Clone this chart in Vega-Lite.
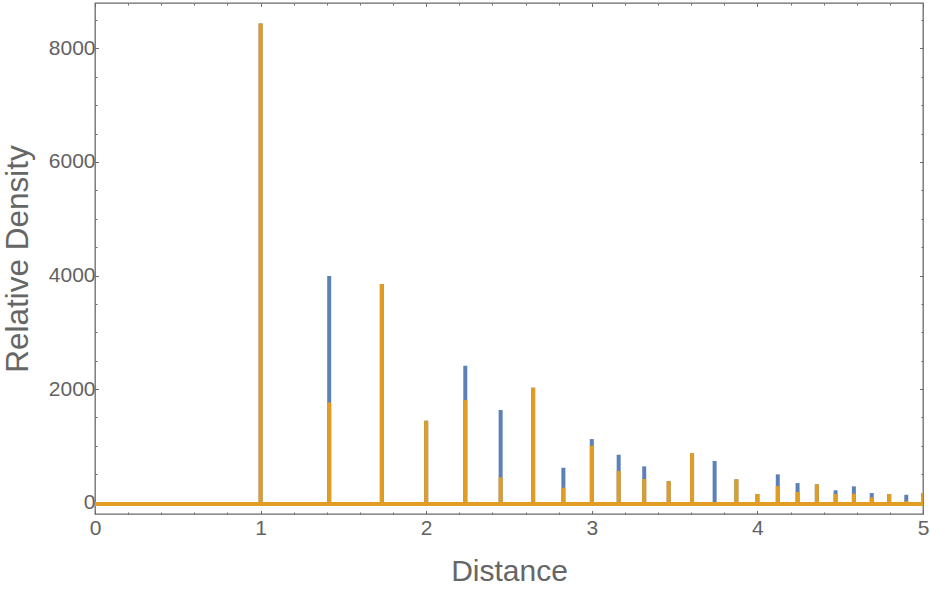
{
  "$schema": "https://vega.github.io/schema/vega-lite/v6.json",
  "description": "Relative density of pair distances, two series with spikes at square-root distances",
  "width": 828,
  "height": 511,
  "autosize": "none",
  "padding": {"left": 95, "top": 3, "right": 7, "bottom": 76},
  "background": "white",
  "data": {
    "values": [
      {"series": "blue", "d": 1, "density": 8440},
      {"series": "blue", "d": 1.4142, "density": 3990},
      {"series": "blue", "d": 1.7321, "density": 3849},
      {"series": "blue", "d": 2, "density": 1442},
      {"series": "blue", "d": 2.2361, "density": 2411},
      {"series": "blue", "d": 2.4495, "density": 1631},
      {"series": "blue", "d": 2.6458, "density": 2024},
      {"series": "blue", "d": 2.8284, "density": 615},
      {"series": "blue", "d": 3, "density": 1120},
      {"series": "blue", "d": 3.1623, "density": 844},
      {"series": "blue", "d": 3.3166, "density": 639},
      {"series": "blue", "d": 3.4641, "density": 380},
      {"series": "blue", "d": 3.6056, "density": 874},
      {"series": "blue", "d": 3.7417, "density": 733},
      {"series": "blue", "d": 3.873, "density": 410},
      {"series": "blue", "d": 4, "density": 151},
      {"series": "blue", "d": 4.1231, "density": 498},
      {"series": "blue", "d": 4.2426, "density": 345},
      {"series": "blue", "d": 4.3589, "density": 322},
      {"series": "blue", "d": 4.4721, "density": 217},
      {"series": "blue", "d": 4.5826, "density": 287},
      {"series": "blue", "d": 4.6904, "density": 169},
      {"series": "blue", "d": 4.7958, "density": 151},
      {"series": "blue", "d": 4.899, "density": 139},
      {"series": "blue", "d": 5, "density": 164},
      {"series": "orange", "d": 1, "density": 8440},
      {"series": "orange", "d": 1.4142, "density": 1766},
      {"series": "orange", "d": 1.7321, "density": 3849},
      {"series": "orange", "d": 2, "density": 1442},
      {"series": "orange", "d": 2.2361, "density": 1807},
      {"series": "orange", "d": 2.4495, "density": 446},
      {"series": "orange", "d": 2.6458, "density": 2024},
      {"series": "orange", "d": 2.8284, "density": 262},
      {"series": "orange", "d": 3, "density": 1002},
      {"series": "orange", "d": 3.1623, "density": 557},
      {"series": "orange", "d": 3.3166, "density": 416},
      {"series": "orange", "d": 3.4641, "density": 380},
      {"series": "orange", "d": 3.6056, "density": 874},
      {"series": "orange", "d": 3.7417, "density": 0},
      {"series": "orange", "d": 3.873, "density": 410},
      {"series": "orange", "d": 4, "density": 151},
      {"series": "orange", "d": 4.1231, "density": 292},
      {"series": "orange", "d": 4.2426, "density": 187},
      {"series": "orange", "d": 4.3589, "density": 322},
      {"series": "orange", "d": 4.4721, "density": 151},
      {"series": "orange", "d": 4.5826, "density": 157},
      {"series": "orange", "d": 4.6904, "density": 93},
      {"series": "orange", "d": 4.7958, "density": 151},
      {"series": "orange", "d": 4.899, "density": 28},
      {"series": "orange", "d": 5, "density": 164}
    ]
  },
  "layer": [
    {
      "transform": [{"filter": "datum.series == 'blue'"}],
      "mark": {"type": "rule", "color": "#5E81B5", "strokeWidth": 4, "strokeCap": "butt", "clip": true},
      "encoding": {
        "x": {
          "field": "d", "type": "quantitative",
          "scale": {"domain": [0, 5], "nice": false, "zero": false},
          "axis": {"orient": "bottom", "values": [0, 1, 2, 3, 4, 5], "format": "d", "tickSize": -3.5, "labelPadding": 7,
                   "title": "Distance", "titleY": 66, "titleBaseline": "alphabetic"}
        },
        "y": {
          "field": "density", "type": "quantitative",
          "scale": {"domain": [-200, 8800], "nice": false, "zero": false},
          "axis": {"orient": "left", "values": [0, 2000, 4000, 6000, 8000], "format": "d", "tickSize": -3.5, "labelPadding": 3.5,
                   "title": "Relative Density", "titleFontSize": 31.5, "titleX": -67.5, "titleBaseline": "alphabetic"}
        },
        "y2": {"datum": 0}
      }
    },
    {
      "mark": {"type": "rule", "color": "#E19C24", "strokeWidth": 3.2, "clip": true},
      "encoding": {
        "y": {"datum": -25, "axis": null}
      }
    },
    {
      "transform": [{"filter": "datum.series == 'orange'"}],
      "mark": {"type": "rule", "color": "#E19C24", "strokeWidth": 4, "strokeCap": "butt", "clip": true},
      "encoding": {
        "x": {
          "field": "d", "type": "quantitative",
          "axis": {"orient": "top", "values": [0, 1, 2, 3, 4, 5], "tickSize": -3.5, "labels": false, "title": null}
        },
        "y": {
          "field": "density", "type": "quantitative",
          "axis": {"orient": "right", "values": [0, 2000, 4000, 6000, 8000], "tickSize": -3.5, "labels": false, "title": null}
        },
        "y2": {"datum": 0}
      }
    },
    {
      "mark": {"type": "rule", "opacity": 0},
      "encoding": {
        "x": {
          "field": "d", "type": "quantitative",
          "axis": {"orient": "bottom", "values": [0.2, 0.4, 0.6, 0.8, 1.2, 1.4, 1.6, 1.8, 2.2, 2.4, 2.6, 2.8, 3.2, 3.4, 3.6, 3.8, 4.2, 4.4, 4.6, 4.8],
                   "tickSize": -2, "labels": false, "title": null}
        },
        "y": {
          "field": "density", "type": "quantitative",
          "axis": {"orient": "left", "values": [500, 1000, 1500, 2500, 3000, 3500, 4500, 5000, 5500, 6500, 7000, 7500, 8500],
                   "tickSize": -2, "labels": false, "title": null}
        }
      }
    },
    {
      "mark": {"type": "rule", "opacity": 0},
      "encoding": {
        "x": {
          "field": "d", "type": "quantitative",
          "axis": {"orient": "top", "values": [0.2, 0.4, 0.6, 0.8, 1.2, 1.4, 1.6, 1.8, 2.2, 2.4, 2.6, 2.8, 3.2, 3.4, 3.6, 3.8, 4.2, 4.4, 4.6, 4.8],
                   "tickSize": -2, "labels": false, "title": null}
        },
        "y": {
          "field": "density", "type": "quantitative",
          "axis": {"orient": "right", "values": [500, 1000, 1500, 2500, 3000, 3500, 4500, 5000, 5500, 6500, 7000, 7500, 8500],
                   "tickSize": -2, "labels": false, "title": null}
        }
      }
    }
  ],
  "resolve": {"axis": {"x": "independent", "y": "independent"}},
  "config": {
    "view": {"stroke": "#6a6a6a", "strokeWidth": 1.3},
    "axis": {
      "domain": false,
      "grid": false,
      "tickColor": "#6a6a6a",
      "tickWidth": 1,
      "labelFlush": false,
      "labelOverlap": false,
      "labelFont": "Liberation Sans",
      "labelFontSize": 21,
      "labelColor": "#626262",
      "titleFont": "Liberation Sans",
      "titleFontSize": 30,
      "titleFontWeight": "normal",
      "titleColor": "#666666"
    }
  }
}
